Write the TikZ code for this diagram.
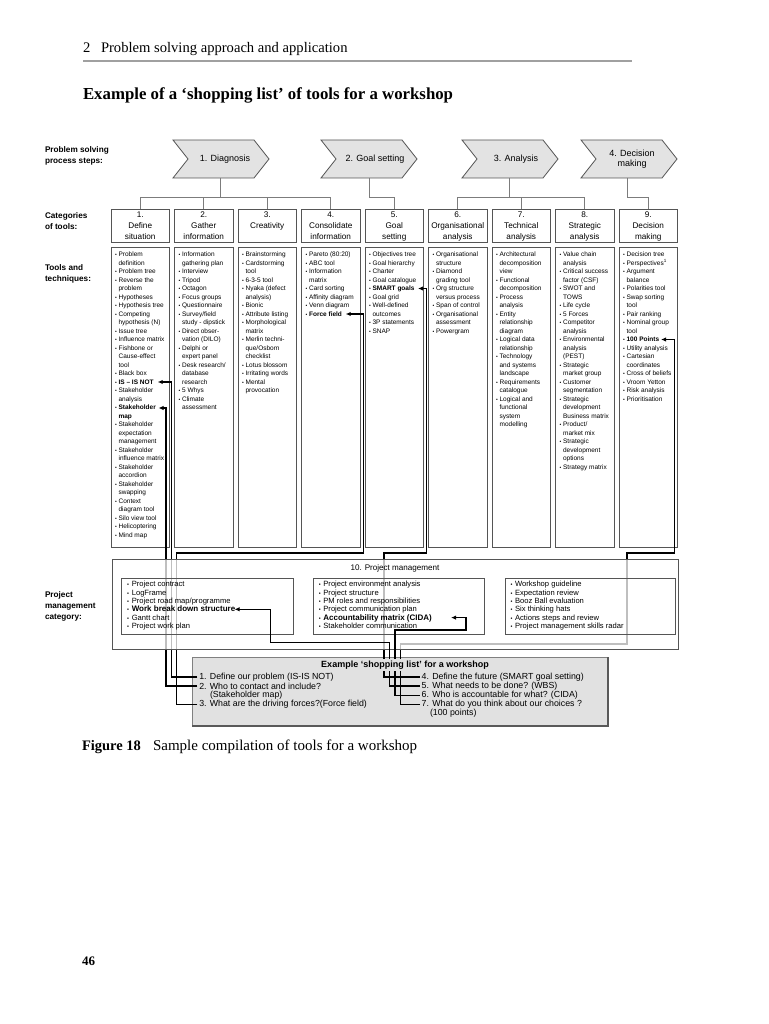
\documentclass[tikz,border=0pt]{standalone}
\usepackage{fontspec}
\setmainfont{Liberation Sans}
\newfontfamily\serifface{Liberation Serif}
\usetikzlibrary{arrows.meta}
\definecolor{chevfill}{HTML}{E3E3E3}
\definecolor{edgegray}{HTML}{555555}
\definecolor{thingray}{HTML}{7C7C7C}
\definecolor{shopfill}{HTML}{E1E1E1}
\definecolor{rulegray}{HTML}{A0A0A0}
\newcommand\bu{\makebox[3.6pt][l]{\fontsize{5}{5}\selectfont\textbullet}}
\newcommand\cn{\hspace*{3.6pt}}
\newcommand\bo[1]{{\bfseries #1}}
\newcommand\pbu{\makebox[4.6pt][l]{\fontsize{5.5}{5.5}\selectfont\textbullet}}
\newcommand\pbo[1]{{\fontsize{8}{8.35}\selectfont\bfseries #1}}
\begin{document}
\begin{tikzpicture}[x=1pt,y=-1pt,
  every node/.style={inner sep=0pt, outer sep=0pt},
  lbl/.style={font=\fontsize{8.2}{11}\selectfont\bfseries, align=left, anchor=west},
  catbox/.style={draw=edgegray, line width=0.8pt, fill=white, minimum width=58.5pt, minimum height=33pt, anchor=north west},
  colbox/.style={draw=edgegray, line width=0.8pt, fill=white, minimum width=58.5pt, minimum height=300pt, anchor=north west},
  cattext/.style={font=\fontsize{8.2}{11}\selectfont, align=center, anchor=north},
  coltext/.style={font=\fontsize{6.5}{8.5}\selectfont, align=left, anchor=north west},
  pmtext/.style={font=\fontsize{7.6}{8.35}\selectfont, align=left, anchor=north west},
  pmbox/.style={draw=edgegray, line width=0.8pt, anchor=north west, minimum height=56pt},
  chev/.style={draw=edgegray, line width=0.8pt, fill=chevfill, line join=miter},
  chevtext/.style={font=\fontsize{9}{10.5}\selectfont, align=center},
  catlink/.style={draw=thingray, line width=0.8pt},
  conn/.style={line width=1.3pt, line join=miter},
  arrowline/.style={conn, -{Latex[length=5pt,width=4.4pt]}},
  shoptext/.style={font=\fontsize{8.8}{9}\selectfont, anchor=west},
]
\fill[white] (0,0) rectangle (768,1024);
\path[use as bounding box] (0,0) rectangle (768,1024);

% ---------- header ----------
\node[anchor=base west, font=\serifface\fontsize{14.6}{18}\selectfont] (hnum) at (83,52.5) {2};
\node[anchor=base west, font=\serifface\fontsize{14.6}{18}\selectfont] (htext) at (101,52.5) {Problem solving approach and application};
\draw[rulegray, line width=1.2pt] (83,61) -- (632,61);
\node[anchor=base west, font=\serifface\bfseries\fontsize{16.8}{20}\selectfont] (title) at (83,100) {Example of a ‘shopping list’ of tools for a workshop};

% ---------- left labels ----------
\node[lbl] (lab1) at (45,155.5) {Problem solving\\process steps:};
\node[lbl] (lab2) at (45,221.5) {Categories\\of tools:};
\node[lbl] (lab3) at (45,273.5) {Tools and\\techniques:};
\node[lbl] (lab4) at (45,606.5) {Project\\management\\category:};

% ---------- chevrons ----------
\draw[chev] (173,140) -- (254,140) -- (269,159) -- (254,178) -- (173,178) -- (188,159) -- cycle;
\draw[chev] (321,140) -- (402,140) -- (417,159) -- (402,178) -- (321,178) -- (336,159) -- cycle;
\draw[chev] (462,140) -- (543,140) -- (558,159) -- (543,178) -- (462,178) -- (477,159) -- cycle;
\draw[chev] (581,140) -- (662,140) -- (677,159) -- (662,178) -- (581,178) -- (596,159) -- cycle;
\node[chevtext] (ch1) at (225,159) {1. Diagnosis};
\node[chevtext] (ch2) at (375,159) {2. Goal setting};
\node[chevtext] (ch3) at (516,159) {3. Analysis};
\node[chevtext] (ch4) at (632,159) {4. Decision\\making};
\coordinate (c1b) at (220,178);
\coordinate (c2b) at (369.3,178);
\coordinate (c3b) at (509,178);
\coordinate (c4b) at (627.6,178);

% ---------- category boxes ----------
\node[catbox] (cat1) at (111,209) {};
\node[catbox] (cat2) at (174.5,209) {};
\node[catbox] (cat3) at (238,209) {};
\node[catbox] (cat4) at (301.5,209) {};
\node[catbox] (cat5) at (365,209) {};
\node[catbox] (cat6) at (428.5,209) {};
\node[catbox] (cat7) at (492,209) {};
\node[catbox] (cat8) at (555.5,209) {};
\node[catbox] (cat9) at (619,209) {};
\node[cattext] (ct1) at (140.25,212) {1.\\Define\\situation};
\node[cattext] (ct2) at (203.75,212) {2.\\Gather\\information};
\node[cattext] (ct3) at (267.25,212) {3.\\Creativity};
\node[cattext] (ct4) at (330.75,212) {4.\\Consolidate\\information};
\node[cattext] (ct5) at (394.25,212) {5.\\Goal\\setting};
\node[cattext] (ct6) at (457.75,212) {6.\\Organisational\\analysis};
\node[cattext] (ct7) at (521.25,212) {7.\\Technical\\analysis};
\node[cattext] (ct8) at (584.75,212) {8.\\Strategic\\analysis};
\node[cattext] (ct9) at (648.25,212) {9.\\Decision\\making};

% links chevrons -> categories
\draw[catlink] (c1b) -- ++(0,19);
\draw[catlink] (cat1.north) -- ++(0,-12) -| (cat4.north);
\draw[catlink] (cat2.north) -- ++(0,-12);
\draw[catlink] (cat3.north) -- ++(0,-12);
\draw[catlink] (c2b) -- ++(0,19) -| (cat5.north);
\draw[catlink] (c3b) -- ++(0,19);
\draw[catlink] (cat6.north) -- ++(0,-12) -| (cat8.north);
\draw[catlink] (cat7.north) -- ++(0,-12);
\draw[catlink] (c4b) -- ++(0,19) -| (cat9.north);

% ---------- tool columns ----------
\node[colbox] (col1) at (111,247.5) {};
\node[colbox] (col2) at (174.5,247.5) {};
\node[colbox] (col3) at (238,247.5) {};
\node[colbox] (col4) at (301.5,247.5) {};
\node[colbox] (col5) at (365,247.5) {};
\node[colbox] (col6) at (428.5,247.5) {};
\node[colbox] (col7) at (492,247.5) {};
\node[colbox] (col8) at (555.5,247.5) {};
\node[colbox] (col9) at (619,247.5) {};

\node[coltext] (t1) at (115,252.1) {\bu Problem\\\cn definition\\\bu Problem tree\\\bu Reverse the\\\cn problem\\\bu Hypotheses\\\bu Hypothesis tree\\\bu Competing\\\cn hypothesis (N)\\\bu Issue tree\\\bu Influence matrix\\\bu Fishbone or\\\cn Cause-effect\\\cn tool\\\bu Black box\\\bu\bo{IS – IS NOT}\\\bu Stakeholder\\\cn analysis\\\bu\bo{Stakeholder}\\\cn\bo{map}\\\bu Stakeholder\\\cn expectation\\\cn management\\\bu Stakeholder\\\cn influence matrix\\\bu Stakeholder\\\cn accordion\\\bu Stakeholder\\\cn swapping\\\bu Context\\\cn diagram tool\\\bu Silo view tool\\\bu Helicoptering\\\bu Mind map};

\node[coltext] (t2) at (178.5,252.1) {\bu Information\\\cn gathering plan\\\bu Interview\\\bu Tripod\\\bu Octagon\\\bu Focus groups\\\bu Questionnaire\\\bu Survey/field\\\cn study - dipstick\\\bu Direct obser-\\\cn vation (DILO)\\\bu Delphi or\\\cn expert panel\\\bu Desk research/\\\cn database\\\cn research\\\bu 5 Whys\\\bu Climate\\\cn assessment};

\node[coltext] (t3) at (242,252.1) {\bu Brainstorming\\\bu Cardstorming\\\cn tool\\\bu 6-3-5 tool\\\bu Nyaka (defect\\\cn analysis)\\\bu Bionic\\\bu Attribute listing\\\bu Morphological\\\cn matrix\\\bu Merlin techni-\\\cn que/Osborn\\\cn checklist\\\bu Lotus blossom\\\bu Irritating words\\\bu Mental\\\cn provocation};

\node[coltext] (t4) at (305.5,252.1) {\bu Pareto (80:20)\\\bu ABC tool\\\bu Information\\\cn matrix\\\bu Card sorting\\\bu Affinity diagram\\\bu Venn diagram\\\bu\bo{Force field}};

\node[coltext] (t5) at (369,252.1) {\bu Objectives tree\\\bu Goal hierarchy\\\bu Charter\\\bu Goal catalogue\\\bu\bo{SMART goals}\\\bu Goal grid\\\bu Well-defined\\\cn outcomes\\\bu 3P statements\\\bu SNAP};

\node[coltext] (t6) at (432.5,252.1) {\bu Organisational\\\cn structure\\\bu Diamond\\\cn grading tool\\\bu Org structure\\\cn versus process\\\bu Span of control\\\bu Organisational\\\cn assessment\\\bu Powergram};

\node[coltext] (t7) at (496,252.1) {\bu Architectural\\\cn decomposition\\\cn view\\\bu Functional\\\cn decomposition\\\bu Process\\\cn analysis\\\bu Entity\\\cn relationship\\\cn diagram\\\bu Logical data\\\cn relationship\\\bu Technology\\\cn and systems\\\cn landscape\\\bu Requirements\\\cn catalogue\\\bu Logical and\\\cn functional\\\cn system\\\cn modelling};

\node[coltext] (t8) at (559.5,252.1) {\bu Value chain\\\cn analysis\\\bu Critical success\\\cn factor (CSF)\\\bu SWOT and\\\cn TOWS\\\bu Life cycle\\\bu 5 Forces\\\bu Competitor\\\cn analysis\\\bu Environmental\\\cn analysis\\\cn (PEST)\\\bu Strategic\\\cn market group\\\bu Customer\\\cn segmentation\\\bu Strategic\\\cn development\\\cn Business matrix\\\bu Product/\\\cn market mix\\\bu Strategic\\\cn development\\\cn options\\\bu Strategy matrix};

\node[coltext] (t9) at (623,252.1) {\bu Decision tree\\\bu Perspectives\textsuperscript{1}\\\bu Argument\\\cn balance\\\bu Polarities tool\\\bu Swap sorting\\\cn tool\\\bu Pair ranking\\\bu Nominal group\\\cn tool\\\bu\bo{100 Points}\\\bu Utility analysis\\\bu Cartesian\\\cn coordinates\\\bu Cross of beliefs\\\bu Vroom Yetton\\\bu Risk analysis\\\bu Prioritisation};

% arrow tips
\coordinate (tipIS) at (157.7,382);
\coordinate (tipSH) at (158.5,408);
\coordinate (tipFF) at (345.7,314);
\coordinate (tipSM) at (418,288.5);
\coordinate (tipHP) at (661,339.5);
\coordinate (tipWB) at (234.5,609.3);
\coordinate (tipCI) at (451,617.6);

% ---------- shopping list box ----------
\node[draw=gray, line width=0.8pt, fill=shopfill, minimum width=416pt, minimum height=69pt, anchor=north west] (shop) at (192,657) {};
\draw[black!65, line width=1.2pt] (shop.north east) -- (shop.south east) -- (shop.south west);

\node[shoptext] (s1) at (199.3,677) {1. Define our problem (IS-IS NOT)};
\node[shoptext] (s2) at (199.3,686.1) {2. Who to contact and include?};
\node[shoptext] (s2b) at (210,695.2) {(Stakeholder map)};
\node[shoptext] (s3) at (199.3,704.3) {3. What are the driving forces?(Force field)};
\node[shoptext] (s4) at (421.7,677) {4. Define the future (SMART goal setting)};
\node[shoptext] (s5) at (421.7,686.1) {5. What needs to be done? (WBS)};
\node[shoptext] (s6) at (421.7,695.2) {6. Who is accountable for what? (CIDA)};
\node[shoptext] (s7) at (421.7,704.3) {7. What do you think about our choices ?};
\node[shoptext] (s7b) at (430,713.4) {(100 points)};

% ---------- long connectors (behind project management box) ----------
\draw[arrowline] ([xshift=-2pt]s1.west) -| (171.5,382) -- (tipIS);
\draw[arrowline] ([xshift=-2pt]s2.west) -| (166,408) -- (tipSH);
\draw[arrowline] ([xshift=-2pt]s3.west) -| (176.5,553) -| (363.3,314) -- (tipFF);
\draw[arrowline] ([xshift=-2pt]s4.west) -| (384,553) -| (426.7,288.5) -- (tipSM);
\draw[arrowline] ([xshift=-2pt]s7.west) -| (400.7,644) -| (627,553) -| (674.3,339.5) -- (tipHP);

% ---------- project management ----------
\node[draw=edgegray, line width=0.8pt, fill=white, fill opacity=0.75, minimum width=566pt, minimum height=90pt, anchor=north west] (pm) at (112,559) {};
\node[font=\fontsize{8.1}{10}\selectfont] (pmtitle) at (395,568.3) {10. Project management};
\node[pmbox, minimum width=171.6pt] (pmA) at (121.7,578.3) {};
\node[pmbox, minimum width=171pt] (pmB) at (313.3,578.3) {};
\node[pmbox, minimum width=170pt] (pmC) at (505,578.3) {};
\node[pmtext] (pa) at (127.2,581.3) {\pbu Project contract\\\pbu LogFrame\\\pbu Project road map/programme\\\pbu\pbo{Work break down structure}\\\pbu Gantt chart\\\pbu Project work plan};
\node[pmtext] (pb) at (318.8,581.3) {\pbu Project environment analysis\\\pbu Project structure\\\pbu PM roles and responsibilities\\\pbu Project communication plan\\\pbu\pbo{Accountability matrix (CIDA)}\\\pbu Stakeholder communication};
\node[pmtext] (pc) at (510.5,581.3) {\pbu Workshop guideline\\\pbu Expectation review\\\pbu Booz Ball evaluation\\\pbu Six thinking hats\\\pbu Actions steps and review\\\pbu Project management skills radar};

\draw[arrowline] ([xshift=-2pt]s5.west) -| (389.3,642.3) -| (270.7,609.3) -- (tipWB);
\draw[arrowline] ([xshift=-2pt]s6.west) -| (395,630) -| (466,617.6) -- (tipCI);

% title of shopping list on top of lines
\node[font=\fontsize{9}{10}\selectfont\bfseries, fill=shopfill, inner xsep=2pt, inner ysep=2pt] (shoptitle) at (405,665) {Example ‘shopping list’ for a workshop};

% ---------- caption ----------
\node[anchor=base west, font=\serifface\bfseries\fontsize{14.5}{17}\selectfont] (capnum) at (82,750.5) {Figure 18};
\node[anchor=base west, font=\serifface\fontsize{15}{17}\selectfont] (captext) at (153,750.5) {Sample compilation of tools for a workshop};
\node[anchor=base west, font=\serifface\bfseries\fontsize{13}{15}\selectfont] (pageno) at (82,965.5) {46};
\end{tikzpicture}
\end{document}
